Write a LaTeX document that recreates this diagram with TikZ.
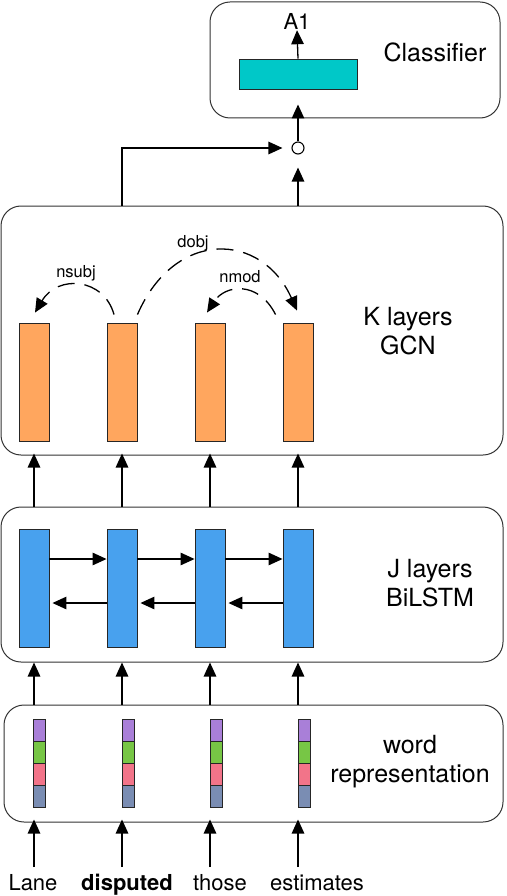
\documentclass[tikz,border=0pt]{standalone}
\usepackage{fontspec}
\setmainfont{TeX Gyre Heros}
\usetikzlibrary{arrows.meta,calc}
\definecolor{tealc}{HTML}{00C8C8}
\definecolor{orangec}{HTML}{FFA65E}
\definecolor{bluec}{HTML}{48A1EE}
\definecolor{purplec}{HTML}{A97FD8}
\definecolor{greenc}{HTML}{77C645}
\definecolor{pinkc}{HTML}{F27489}
\definecolor{slatec}{HTML}{7A8DB3}
\begin{document}
\begin{tikzpicture}[x=1pt,y=-1pt,
  panel/.style={draw=black!80, line width=1pt, rounded corners=20pt, inner sep=0pt},
  cell/.style={draw=black!85, line width=0.9pt, inner sep=0pt, minimum width=30pt, minimum height=118pt},
  arr/.style={-{Triangle[length=14pt,width=12.5pt]}, line width=1.3pt},
  dep/.style={arr, dash pattern=on 17pt off 10pt},
  lbl/.style={font=\fontsize{25}{29}\selectfont, align=center},
  small/.style={font=\fontsize{16.5}{20}\selectfont},
  wordlbl/.style={font=\fontsize{22}{26}\selectfont, anchor=base},
  seg/.style={draw=black!85, line width=0.9pt}
]
\useasboundingbox (0,0) rectangle (506,896);

% panels
\node[panel, minimum width=290pt, minimum height=116pt] (cls) at (355,60) {};
\node[panel, minimum width=502pt, minimum height=249pt] (gcn) at (252,330.5) {};
\node[panel, minimum width=502pt, minimum height=155pt] (bil) at (252,584.5) {};
\node[panel, minimum width=499pt, minimum height=117pt] (wrd) at (253.5,763.5) {};

% panel labels
\node[lbl] (clslbl) at (435,52) {Classifier};
\node[lbl] (gcnlbl) at (408,331) {K layers\\GCN};
\node[lbl] (billbl) at (430,583) {J layers\\BiLSTM};
\node[lbl] (wrdlbl) at (410,762) {word\\representation};

% classifier
\node[draw=black!85, line width=0.9pt, fill=tealc, minimum width=118pt, minimum height=30pt, inner sep=0pt] (lin) at (298,74) {};
\node[font=\fontsize{22}{26}\selectfont, inner sep=1pt] (a1) at (297,21) {A1};
\draw[arr] (lin.north) -- (a1.south);

% circle
\node[draw, circle, line width=1.1pt, minimum size=12pt, inner sep=0pt] (circ) at (298,148) {};

% GCN cells
\foreach \i/\x in {1/34,2/122,3/210,4/298}{
  \node[cell, fill=orangec] (g\i) at (\x,382) {};
  \node[cell, fill=bluec] (b\i) at (\x,588) {};
}

% dependency arcs
\draw[dep] ($(g2.north)+(-8,-8)$) .. controls (104,278) and (58,274) .. ($(g1.north)+(1,-10)$);
\draw[dep] ($(g2.north east)+(0,-8)$) .. controls (175,228) and (262,232) .. ($(g4.north)+(-1,-12)$);
\draw[dep] ($(g4.north west)+(-7,-8)$) .. controls (258,280) and (225,285) .. ($(g3.north)+(-3,-10)$);
\node[small] (nsubj) at (76,273) {nsubj};
\node[small] (dobj) at (193,243) {dobj};
\node[small] (nmod) at (240,277) {nmod};

% GCN to circle to classifier
\draw[arr, shorten >=9pt] (g2 |- gcn.north) |- (circ.west);
\draw[arr, shorten >=13pt] (g4 |- gcn.north) -- (circ.south);
\draw[arr] (circ.north) -- ($(circ |- cls.south)+(0,-14)$);

% BiLSTM to GCN
\foreach \i in {1,...,4}{
  \draw[arr, shorten >=-2pt] (b\i |- bil.north) -- (b\i |- gcn.south);
  \draw[arr] (b\i |- wrd.north) -- (b\i |- bil.south);
}

% BiLSTM horizontal
\foreach \i/\j in {1/2,2/3,3/4}{
  \draw[arr] ($(b\i.east)+(0,-29)$) -- ($(b\j.west)+(0,-29)$);
  \draw[arr, shorten >=3pt] ($(b\j.west)+(0,15)$) -- ($(b\i.east)+(0,15)$);
}

% word representation bars
\foreach \x in {33,122,210,298}{
  \filldraw[seg, fill=purplec] (\x,719) rectangle (\x+12,741);
  \filldraw[seg, fill=greenc] (\x,741) rectangle (\x+12,763);
  \filldraw[seg, fill=pinkc] (\x,763) rectangle (\x+12,785);
  \filldraw[seg, fill=slatec] (\x,785) rectangle (\x+12,807);
}

% words
\node[wordlbl] (w1) at (33,890) {Lane};
\node[wordlbl] (w2) at (127,890) {\bfseries disputed};
\node[wordlbl] (w3) at (220,890) {those};
\node[wordlbl] (w4) at (317,890) {estimates};
\foreach \i in {1,...,4}{
  \draw[arr, shorten >=-3pt] (b\i |- 0,867) -- (b\i |- wrd.south);
}
\end{tikzpicture}
\end{document}
